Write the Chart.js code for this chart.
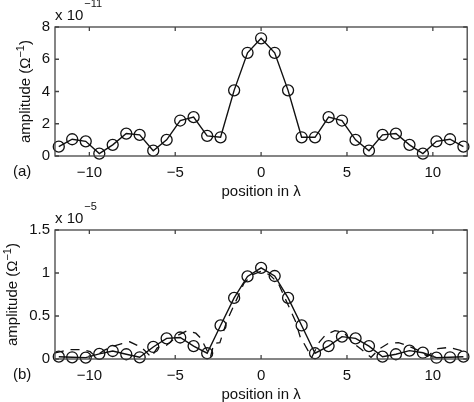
<!DOCTYPE html>
<html>
<head>
<meta charset="utf-8">
<script src="https://cdn.jsdelivr.net/npm/chart.js@4.4.1/dist/chart.umd.min.js"></script>
<style>
  html, body { margin: 0; padding: 0; background: #fff; }
  #wrap { position: relative; width: 474px; height: 402px; overflow: hidden; }
  canvas { position: absolute; left: 0; }
  #topPlot { top: 0; }
  #bottomPlot { top: 200px; }
</style>
</head>
<body>
<div id="wrap">
  <canvas id="topPlot" width="474" height="200"></canvas>
  <canvas id="bottomPlot" width="474" height="202"></canvas>
</div>
<script>
// sample positions (in wavelengths) of the circles
const positions = [-11.78, -11.0, -10.21, -9.42, -8.64, -7.85, -7.07, -6.28, -5.50, -4.71, -3.93, -3.14, -2.36, -1.57, -0.79,
                   0, 0.79, 1.57, 2.36, 3.14, 3.93, 4.71, 5.50, 6.28, 7.07, 7.85, 8.64, 9.42, 10.21, 11.0, 11.78];
// (a) amplitude, x 1e-11
const amplitudeA = [0.58, 1.04, 0.91, 0.15, 0.69, 1.39, 1.31, 0.33, 1.0, 2.2, 2.41, 1.25, 1.16, 4.07, 6.4,
                    7.3, 6.4, 4.07, 1.16, 1.16, 2.41, 2.2, 1.0, 0.33, 1.31, 1.39, 0.69, 0.15, 0.91, 1.04, 0.58];
// (b) amplitude, x 1e-5
const amplitudeB = [0.027, 0.02, 0.016, 0.06, 0.093, 0.055, 0.02, 0.14, 0.24, 0.25, 0.15, 0.067, 0.39, 0.71, 0.96,
                    1.06, 0.965, 0.71, 0.39, 0.067, 0.15, 0.26, 0.24, 0.15, 0.027, 0.055, 0.097, 0.073, 0.015, 0.02, 0.027];
// (b) dashed reference curve
const dashPositions = [-12, -11.65, -11.25, -10.45, -9.95, -9.65, -9.15, -8.6, -8.1, -7.65, -7.0, -6.7, -6.4, -6.05, -5.5,
                       -4.8, -4.3, -3.8, -3.5, -2.95, -2.75, -2.4, -2.0, -1.5, -1.0, -0.5, 0, 0.5, 1.0, 1.5, 2.0, 2.3, 2.5,
                       2.95, 3.4, 3.75, 4.3, 4.8, 5.4, 5.85, 6.4, 6.9, 7.4, 8.0, 8.6, 9.15, 9.7, 10.0, 10.3, 10.95, 11.6, 12];
const dashAmplitude = [0.07, 0.085, 0.11, 0.11, 0.085, 0.03, 0.1, 0.15, 0.18, 0.2, 0.14, 0.085, 0.02, 0.13, 0.16,
                       0.28, 0.33, 0.3, 0.24, 0.02, 0.18, 0.19, 0.44, 0.66, 0.88, 0.98, 1.02, 0.98, 0.88, 0.66, 0.44, 0.24, 0.18,
                       0.02, 0.2, 0.28, 0.33, 0.31, 0.18, 0.11, 0.02, 0.12, 0.18, 0.19, 0.15, 0.1, 0.03, 0.085, 0.12, 0.135, 0.1, 0.07];
const xTicks = [-10, -5, 0, 5, 10];
const yTicksA = [0, 2, 4, 6, 8];
const yTicksB = [0, 0.5, 1, 1.5];

const FONT = '"Liberation Sans", Arial, Helvetica, sans-serif';
const INK = '#111';

// box, inward ticks and the matlab-style labels
const framePlugin = {
    id: 'frame',
    afterDraw(chart, args, opts) {
        const ctx = chart.ctx;
        const a = chart.chartArea;
        const xs = chart.scales.x, ys = chart.scales.y;
        ctx.save();
        ctx.strokeStyle = '#444';
        ctx.lineWidth = 1.3;
        ctx.strokeRect(a.left, a.top, a.right - a.left, a.bottom - a.top);
        ctx.beginPath();
        xs.ticks.forEach(t => {
            const px = xs.getPixelForValue(t.value);
            ctx.moveTo(px, a.bottom); ctx.lineTo(px, a.bottom - 4);
            ctx.moveTo(px, a.top); ctx.lineTo(px, a.top + 4);
        });
        ys.ticks.forEach(t => {
            const py = ys.getPixelForValue(t.value);
            ctx.moveTo(a.left, py); ctx.lineTo(a.left + 4, py);
            ctx.moveTo(a.right, py); ctx.lineTo(a.right - 4, py);
        });
        ctx.stroke();

        ctx.fillStyle = INK;
        // exponent above the axes
        ctx.font = '15px ' + FONT;
        ctx.textAlign = 'left';
        ctx.textBaseline = 'alphabetic';
        ctx.fillText('x 10', a.left, a.top - 7);
        const w = ctx.measureText('x 10').width;
        ctx.font = '11px ' + FONT;
        ctx.fillText(opts.exponent, a.left + w + 1, a.top - 20);

        // panel letter and x title
        ctx.font = '15px ' + FONT;
        ctx.textBaseline = 'middle';
        ctx.fillText(opts.panel, 13, a.bottom + 16);
        ctx.textAlign = 'center';
        ctx.fillText('position in λ', (a.left + a.right) / 2, a.bottom + 36);

        // rotated y title with superscript
        const main = 'amplitude (Ω', sup = '−1', tail = ')';
        ctx.font = '15px ' + FONT;
        const w1 = ctx.measureText(main).width, w3 = ctx.measureText(tail).width;
        ctx.font = '11px ' + FONT;
        const w2 = ctx.measureText(sup).width;
        const total = w1 + w2 + w3;
        ctx.translate(opts.titleX, (a.top + a.bottom) / 2);
        ctx.rotate(-Math.PI / 2);
        ctx.textAlign = 'left';
        ctx.textBaseline = 'middle';
        ctx.font = '15px ' + FONT;
        ctx.fillText(main, -total / 2, 0);
        ctx.font = '11px ' + FONT;
        ctx.fillText(sup, -total / 2 + w1, -5);
        ctx.font = '15px ' + FONT;
        ctx.fillText(tail, -total / 2 + w1 + w2, 0);
        ctx.restore();
    }
};

function fmt(v) {
    return v < 0 ? '−' + Math.abs(v) : String(v);
}

function makeOptions(yMax, yTicks, exponent, panel, topPad, xHeight, titleX) {
    return {
        responsive: false,
        animation: false,
        devicePixelRatio: 1,
        layout: { padding: { top: topPad, right: 3, left: 0, bottom: 0 } },
        plugins: {
            legend: { display: false },
            tooltip: { enabled: false },
            frame: { exponent: exponent, panel: panel, titleX: titleX }
        },
        scales: {
            x: {
                type: 'linear', min: -12, max: 12,
                grid: { display: false, drawTicks: false },
                border: { display: false },
                afterBuildTicks: s => { s.ticks = xTicks.map(v => ({ value: v })); },
                afterFit: s => { s.height = xHeight; },
                ticks: { padding: 8, color: INK, font: { family: FONT, size: 15 }, maxRotation: 0, autoSkip: false, callback: v => fmt(v) }
            },
            y: {
                type: 'linear', min: 0, max: yMax,
                grid: { display: false, drawTicks: false },
                border: { display: false },
                afterBuildTicks: s => { s.ticks = yTicks.map(v => ({ value: v })); },
                afterFit: s => { s.width = 55; },
                ticks: { padding: 5, color: INK, font: { family: FONT, size: 15 }, autoSkip: false, callback: v => fmt(v) }
            }
        }
    };
}

const circleStyle = {
    borderColor: INK,
    borderWidth: 1.4,
    pointRadius: 5.5,
    pointBorderWidth: 1.3,
    pointBackgroundColor: 'rgba(0,0,0,0)',
    pointBorderColor: INK,
    fill: false,
    tension: 0,
    clip: false
};

new Chart(document.getElementById('topPlot'), {
    type: 'line',
    data: {
        datasets: [Object.assign({
            data: positions.map((x, i) => ({ x: x, y: amplitudeA[i] }))
        }, circleStyle)]
    },
    options: makeOptions(8, yTicksA, '−11', '(a)', 27, 44, 26),
    plugins: [framePlugin]
});

new Chart(document.getElementById('bottomPlot'), {
    type: 'line',
    data: {
        datasets: [
            Object.assign({
                data: positions.map((x, i) => ({ x: x, y: amplitudeB[i] }))
            }, circleStyle),
            {
                data: dashPositions.map((x, i) => ({ x: x, y: dashAmplitude[i] })),
                borderColor: INK,
                borderWidth: 1.3,
                borderDash: [9, 7],
                pointRadius: 0,
                fill: false,
                tension: 0,
                clip: false
            }
        ]
    },
    options: makeOptions(1.5, yTicksB, '−5', '(b)', 30, 43, 13),
    plugins: [framePlugin]
});
</script>
</body>
</html>
